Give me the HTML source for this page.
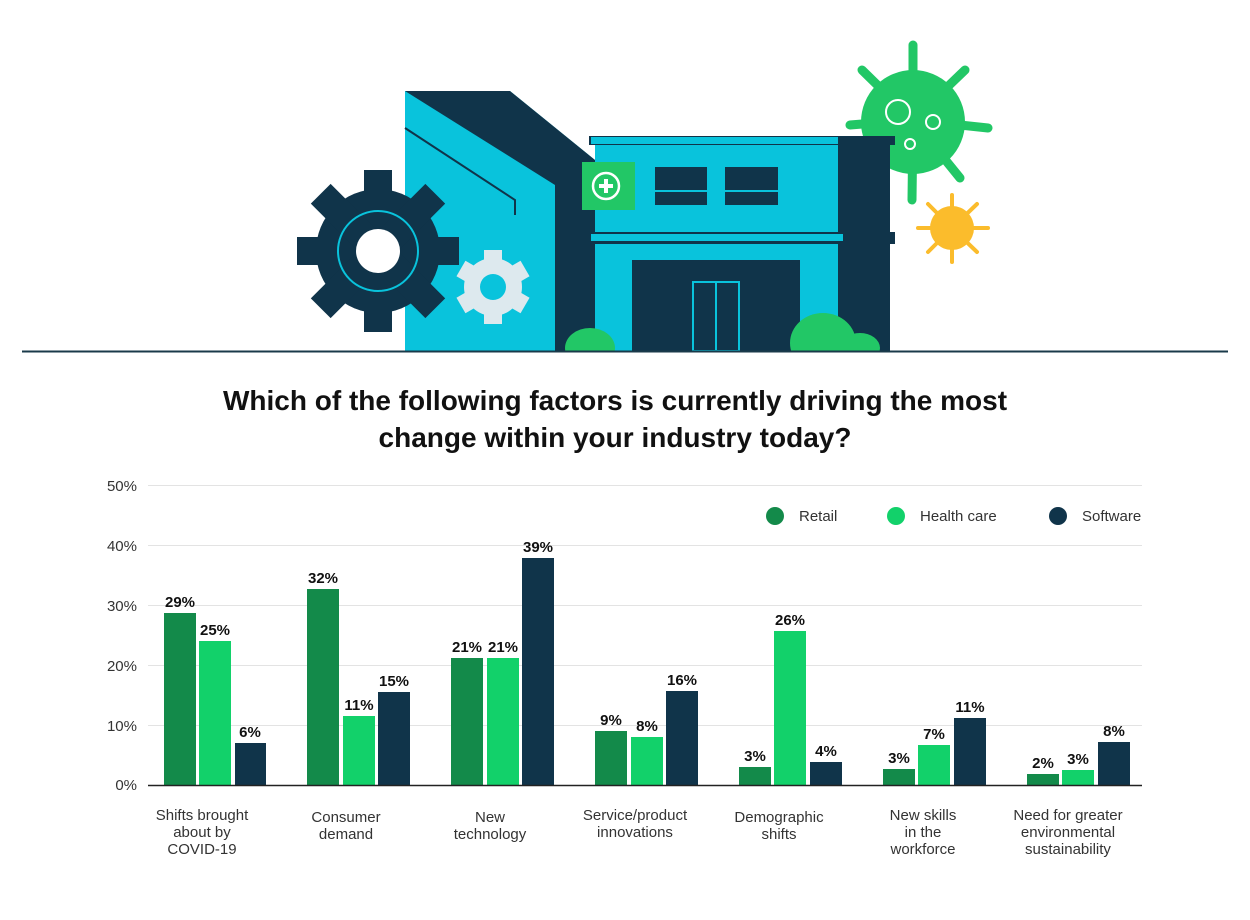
<!DOCTYPE html>
<html><head><meta charset="utf-8"><style>
body{margin:0;background:#fff;width:1250px;height:915px;overflow:hidden;font-family:"Liberation Sans",sans-serif}
</style></head><body>
<svg width="1250" height="915" viewBox="0 0 1250 915" xmlns="http://www.w3.org/2000/svg" font-family="Liberation Sans, sans-serif">
<g>
 <g stroke="#22c766" stroke-width="9" stroke-linecap="round">
  <line x1="913" y1="120" x2="913" y2="45"/><line x1="913" y1="120" x2="965" y2="70"/>
  <line x1="913" y1="120" x2="988" y2="128"/><line x1="913" y1="120" x2="960" y2="178"/>
  <line x1="913" y1="120" x2="912" y2="200"/><line x1="913" y1="120" x2="862" y2="70"/>
  <line x1="913" y1="120" x2="850" y2="125"/>
 </g>
 <circle cx="913" cy="122" r="52" fill="#22c766"/>
 <circle cx="898" cy="112" r="12" fill="none" stroke="#fff" stroke-width="2"/>
 <circle cx="933" cy="122" r="7" fill="none" stroke="#fff" stroke-width="2"/>
 <circle cx="910" cy="144" r="5" fill="none" stroke="#fff" stroke-width="2"/>
 <g stroke="#fbbc2c" stroke-width="4" stroke-linecap="round">
  <line x1="952" y1="228" x2="952" y2="195"/><line x1="952" y1="228" x2="952" y2="262"/>
  <line x1="952" y1="228" x2="918" y2="228"/><line x1="952" y1="228" x2="988" y2="228"/>
  <line x1="952" y1="228" x2="928" y2="204"/><line x1="952" y1="228" x2="977" y2="204"/>
  <line x1="952" y1="228" x2="928" y2="252"/><line x1="952" y1="228" x2="977" y2="252"/>
 </g>
 <circle cx="952" cy="228" r="22" fill="#fbbc2c"/>
 <polygon points="405,91 510,91 595,160 595,351 405,351" fill="#09c3dc"/>
 <polygon points="405,91 510,91 595,160 595,185 555,185" fill="#10344a"/>
 <polyline points="405,128 515,200 515,215" fill="none" stroke="#10344a" stroke-width="2"/>
 <rect x="555" y="185" width="40" height="166" fill="#10344a"/>
 <rect x="595" y="145" width="245" height="206" fill="#09c3dc"/>
 <rect x="838" y="137" width="52" height="214" fill="#10344a"/>
 <rect x="589" y="136" width="306" height="9" fill="#10344a"/>
 <rect x="591" y="137" width="247" height="7" fill="#09c3dc"/>
 <rect x="582" y="162" width="53" height="48" fill="#22c766"/>
 <circle cx="606" cy="186" r="13" fill="none" stroke="#fff" stroke-width="2.5"/>
 <path d="M606 179v14M599 186h14" stroke="#fff" stroke-width="4"/>
 <rect x="655" y="167" width="52" height="38" fill="#10344a"/>
 <rect x="725" y="167" width="53" height="38" fill="#10344a"/>
 <line x1="655" y1="191" x2="707" y2="191" stroke="#09c3dc" stroke-width="2"/>
 <line x1="725" y1="191" x2="778" y2="191" stroke="#09c3dc" stroke-width="2"/>
 <rect x="589" y="232" width="306" height="12" fill="#10344a"/>
 <rect x="591" y="234" width="252" height="7" fill="#09c3dc"/>
 <rect x="632" y="260" width="168" height="91" fill="#10344a"/>
 <rect x="693" y="282" width="46" height="69" fill="none" stroke="#09c3dc" stroke-width="2"/>
 <line x1="716" y1="282" x2="716" y2="351" stroke="#09c3dc" stroke-width="2"/>
 <ellipse cx="590" cy="348" rx="25" ry="20" fill="#22c766"/>
 <ellipse cx="823" cy="343" rx="33" ry="30" fill="#22c766"/>
 <ellipse cx="860" cy="348" rx="20" ry="15" fill="#22c766"/>
 <rect x="540" y="352" width="360" height="30" fill="#fff"/>
 <g fill="#10344a">
  <circle cx="378" cy="251" r="62"/>
  <rect x="364" y="170" width="28" height="162"/><rect x="297" y="237" width="162" height="28"/>
  <g transform="rotate(45 378 251)"><rect x="364" y="170" width="28" height="162"/><rect x="297" y="237" width="162" height="28"/></g>
 </g>
 <circle cx="378" cy="251" r="40" fill="none" stroke="#09c3dc" stroke-width="2"/>
 <circle cx="378" cy="251" r="22" fill="#fff"/>
 <g fill="#dde9ee">
  <circle cx="493" cy="287" r="29"/>
  <rect x="484" y="250" width="18" height="74"/>
  <g transform="rotate(60 493 287)"><rect x="484" y="250" width="18" height="74"/></g>
  <g transform="rotate(120 493 287)"><rect x="484" y="250" width="18" height="74"/></g>
 </g>
 <circle cx="493" cy="287" r="13" fill="#09c3dc"/>
 <line x1="22" y1="351.5" x2="1228" y2="351.5" stroke="#1a3a4a" stroke-width="2"/>
</g>
<text x="615" y="410" text-anchor="middle" font-size="28" font-weight="bold" fill="#111">Which of the following factors is currently driving the most</text>
<text x="615" y="447" text-anchor="middle" font-size="28" font-weight="bold" fill="#111">change within your industry today?</text>
<g stroke="#e3e3e3" stroke-width="1">
 <line x1="148" y1="485.5" x2="1142" y2="485.5"/><line x1="148" y1="545.5" x2="1142" y2="545.5"/>
 <line x1="148" y1="605.5" x2="1142" y2="605.5"/><line x1="148" y1="665.5" x2="1142" y2="665.5"/>
 <line x1="148" y1="725.5" x2="1142" y2="725.5"/>
</g>
<g font-size="15" fill="#333" text-anchor="end">
 <text x="137" y="491">50%</text><text x="137" y="551">40%</text><text x="137" y="611">30%</text>
 <text x="137" y="671">20%</text><text x="137" y="731">10%</text><text x="137" y="790">0%</text>
</g>
<circle cx="775" cy="516" r="9" fill="#138a4a"/><text x="799" y="521" font-size="15" fill="#333">Retail</text>
<circle cx="896" cy="516" r="9" fill="#12d16a"/><text x="920" y="521" font-size="15" fill="#333">Health care</text>
<circle cx="1058" cy="516" r="9" fill="#10344a"/><text x="1082" y="521" font-size="15" fill="#333">Software</text>
<g>
<rect x="164" y="613" width="32" height="172" fill="#138a4a"/><rect x="199" y="641" width="32" height="144" fill="#12d16a"/><rect x="235" y="743" width="31" height="42" fill="#10344a"/>
<rect x="307" y="589" width="32" height="196" fill="#138a4a"/><rect x="343" y="716" width="32" height="69" fill="#12d16a"/><rect x="378" y="692" width="32" height="93" fill="#10344a"/>
<rect x="451" y="658" width="32" height="127" fill="#138a4a"/><rect x="487" y="658" width="32" height="127" fill="#12d16a"/><rect x="522" y="558" width="32" height="227" fill="#10344a"/>
<rect x="595" y="731" width="32" height="54" fill="#138a4a"/><rect x="631" y="737" width="32" height="48" fill="#12d16a"/><rect x="666" y="691" width="32" height="94" fill="#10344a"/>
<rect x="739" y="767" width="32" height="18" fill="#138a4a"/><rect x="774" y="631" width="32" height="154" fill="#12d16a"/><rect x="810" y="762" width="32" height="23" fill="#10344a"/>
<rect x="883" y="769" width="32" height="16" fill="#138a4a"/><rect x="918" y="745" width="32" height="40" fill="#12d16a"/><rect x="954" y="718" width="32" height="67" fill="#10344a"/>
<rect x="1027" y="774" width="32" height="11" fill="#138a4a"/><rect x="1062" y="770" width="32" height="15" fill="#12d16a"/><rect x="1098" y="742" width="32" height="43" fill="#10344a"/>
</g>
<line x1="148" y1="785.5" x2="1142" y2="785.5" stroke="#222" stroke-width="1.5"/>
<g font-size="15" font-weight="bold" fill="#111" text-anchor="middle">
<text x="180" y="607">29%</text><text x="215" y="635">25%</text><text x="250" y="737">6%</text>
<text x="323" y="583">32%</text><text x="359" y="710">11%</text><text x="394" y="686">15%</text>
<text x="467" y="652">21%</text><text x="503" y="652">21%</text><text x="538" y="552">39%</text>
<text x="611" y="725">9%</text><text x="647" y="731">8%</text><text x="682" y="685">16%</text>
<text x="755" y="761">3%</text><text x="790" y="625">26%</text><text x="826" y="756">4%</text>
<text x="899" y="763">3%</text><text x="934" y="739">7%</text><text x="970" y="712">11%</text>
<text x="1043" y="768">2%</text><text x="1078" y="764">3%</text><text x="1114" y="736">8%</text>
</g>
<g font-size="15" fill="#333" text-anchor="middle">
<text x="202" y="820">Shifts brought</text><text x="202" y="837">about by</text><text x="202" y="854">COVID-19</text>
<text x="346" y="822">Consumer</text><text x="346" y="839">demand</text>
<text x="490" y="822">New</text><text x="490" y="839">technology</text>
<text x="635" y="820">Service/product</text><text x="635" y="837">innovations</text>
<text x="779" y="822">Demographic</text><text x="779" y="839">shifts</text>
<text x="923" y="820">New skills</text><text x="923" y="837">in the</text><text x="923" y="854">workforce</text>
<text x="1068" y="820">Need for greater</text><text x="1068" y="837">environmental</text><text x="1068" y="854">sustainability</text>
</g>
</svg>
</body></html>
